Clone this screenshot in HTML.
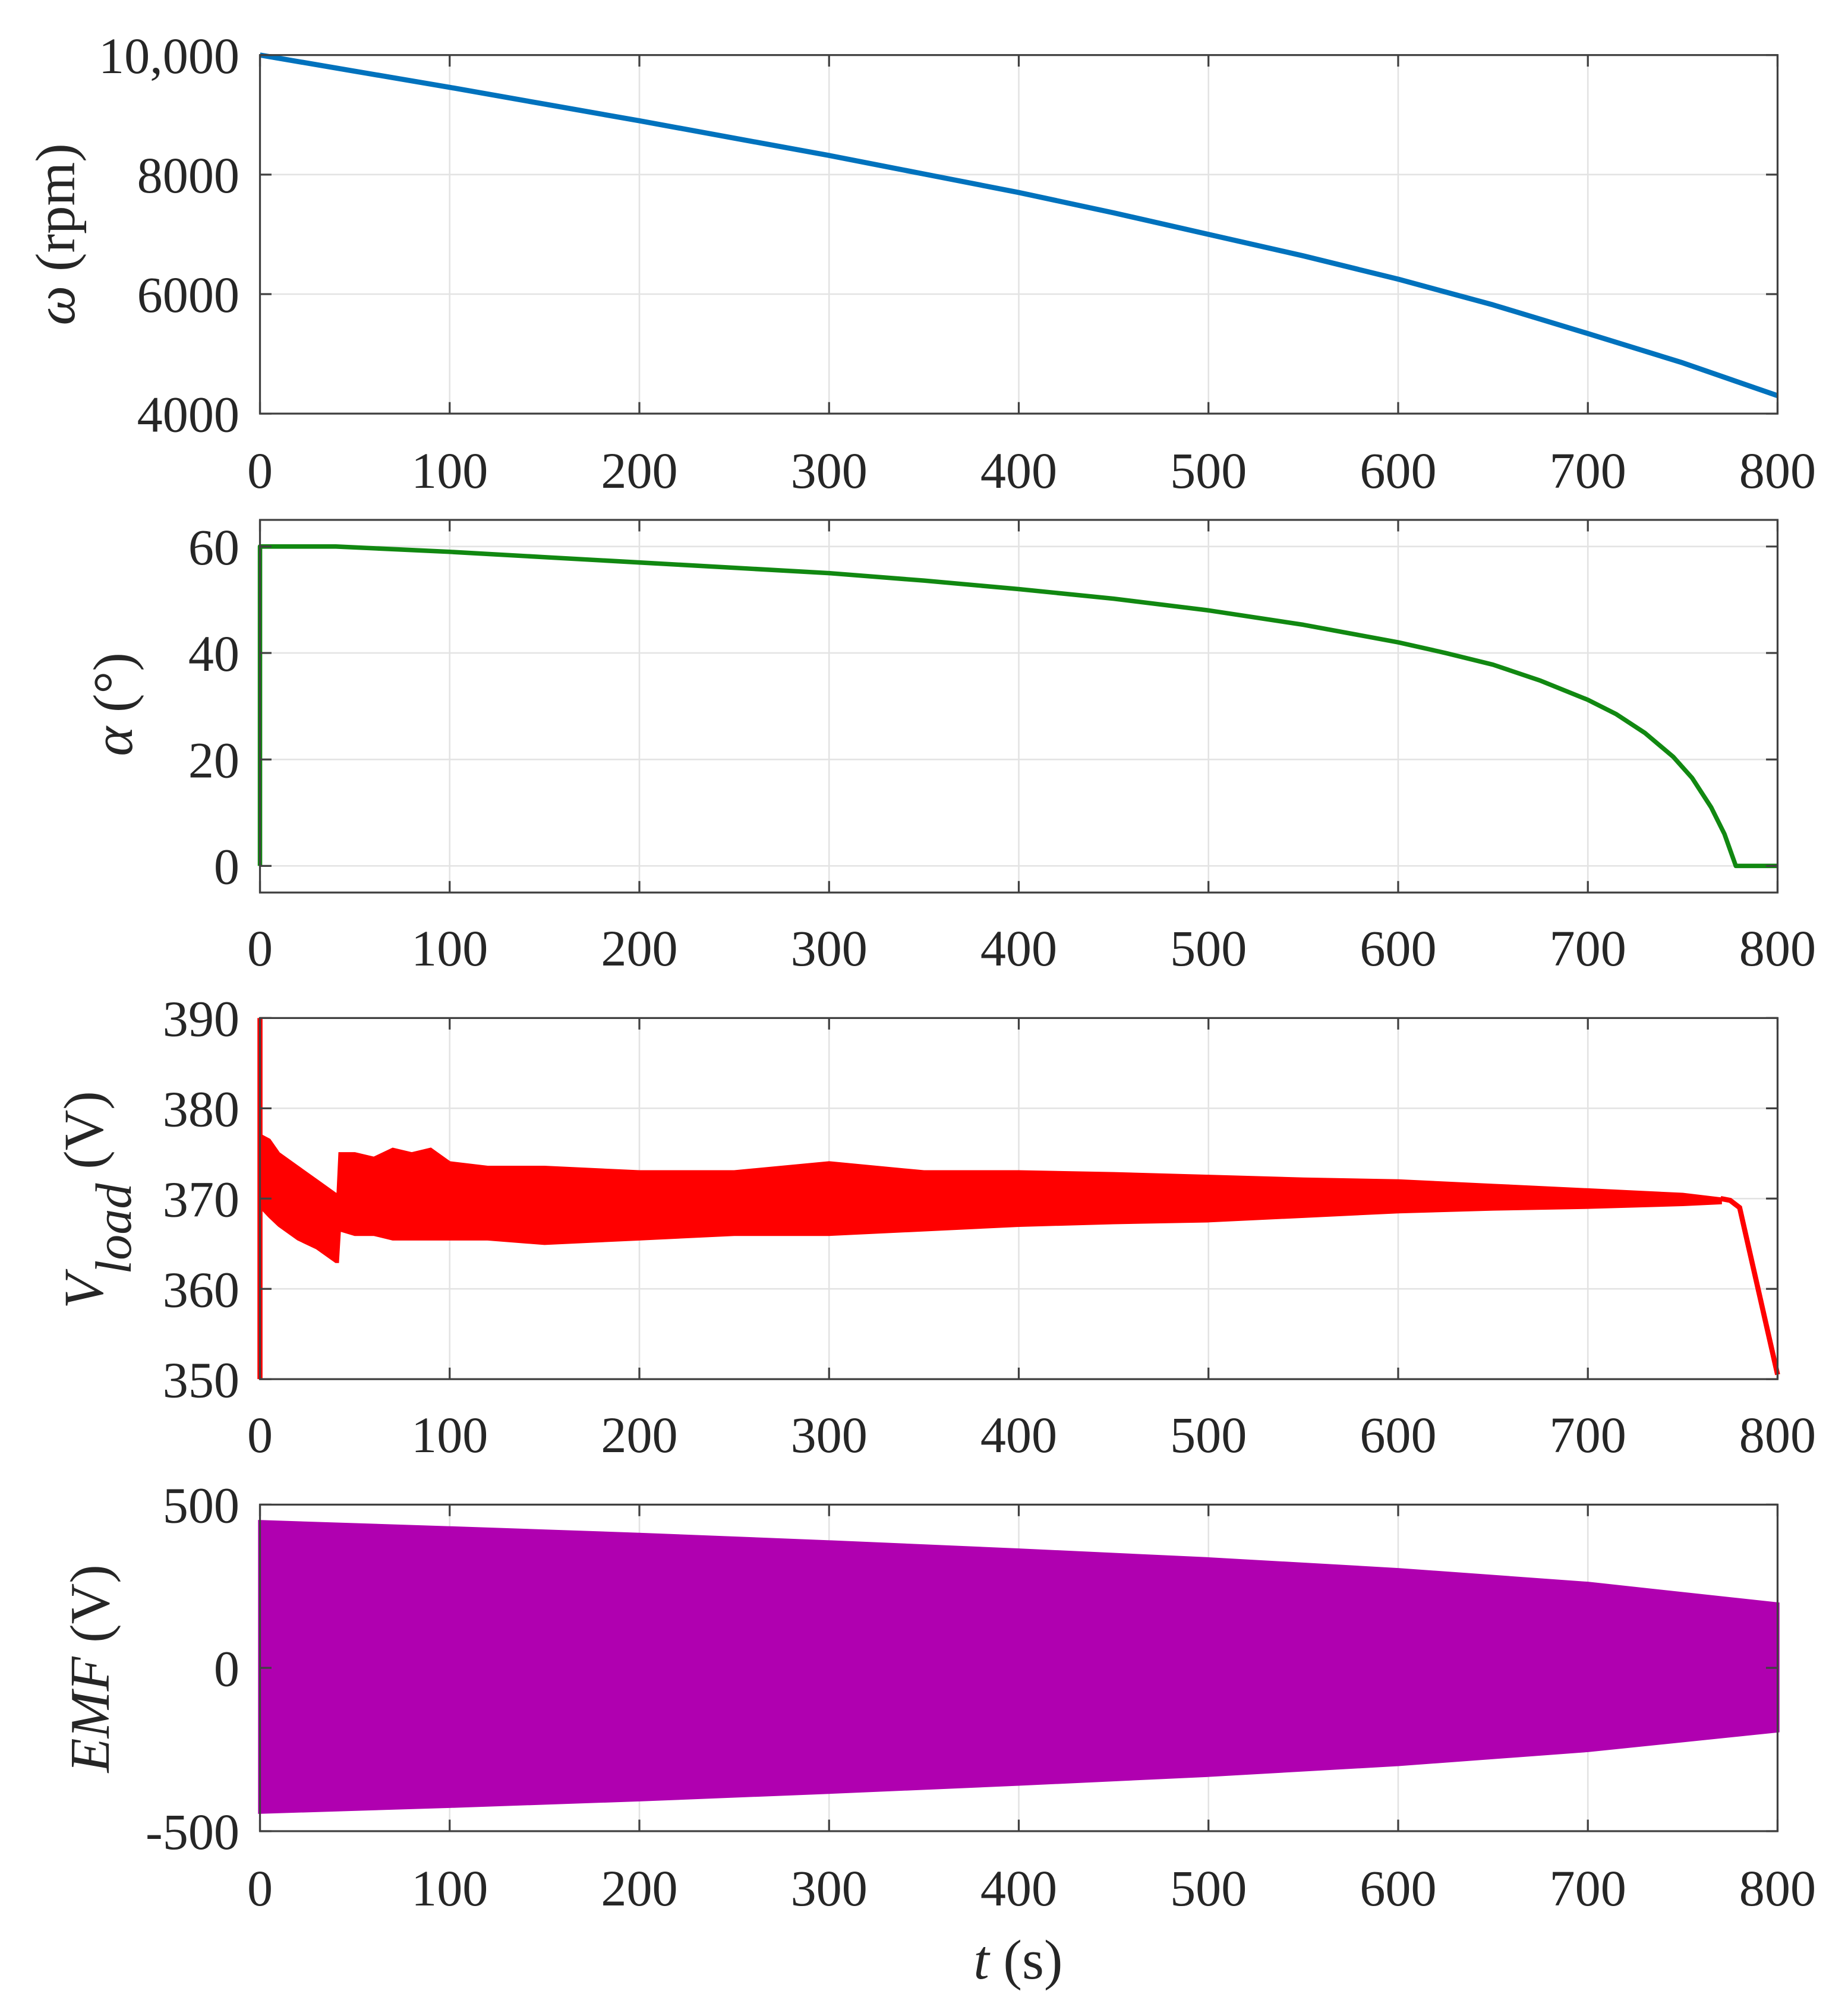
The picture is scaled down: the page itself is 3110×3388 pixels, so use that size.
<!DOCTYPE html>
<html><head><meta charset="utf-8"><style>
html,body{margin:0;padding:0;background:#fff;}
svg{display:block;}
text{font-family:"Liberation Serif",serif;fill:#262626;}
</style></head><body>
<svg id="fig" width="3110" height="3388" viewBox="0 0 1443 1572" xmlns="http://www.w3.org/2000/svg"></svg>
<script>
// ---- data ----
const xTicks = [0,100,200,300,400,500,600,700,800];
const omegaT = [0,50,100,150,200,250,300,350,400,450,500,550,600,650,700,750,800];
const omegaV = [10000,9730,9460,9180,8900,8610,8320,8010,7700,7360,7000,6640,6250,5820,5340,4850,4300];
const alphaT = [0,0.01,40,100,150,200,250,300,350,400,450,500,550,600,625,650,675,700,715,730,745,755,765,772,778,800];
const alphaV = [0,60,60,59,58,57,56,55,53.6,52,50.2,48,45.3,42,40,37.8,34.8,31.2,28.5,25,20.5,16.5,11,6,0,0];
const vT     = [0.5,5,10,20,30,40,41,42,50,60,70,80,90,100,120,150,200,250,300,350,400,450,500,550,600,650,700,750,770];
const vUpper = [377,376.5,375,373.5,372,370.5,370.5,375,375,374.5,375.5,375,375.5,374,373.5,373.5,373,373,374,373,373,372.8,372.5,372.2,372,371.5,371,370.5,370];
const vLower = [369,368,367,365.5,364.5,363,363,366.5,366,366,365.5,365.5,365.5,365.5,365.5,365,365.5,366,366,366.5,367,367.3,367.5,368,368.5,368.8,369,369.3,369.5];
const vTailT = [770,775,780,800];
const vTailV = [370,369.8,369,350.5];
const emfT   = [0,100,200,300,400,500,600,700,800];
const emfUp  = [447,428,408,385,360,333,300,258,195];
const emfLo  = [-441,-423,-403,-380,-355,-328,-295,-252,-192];

const yTicks1=[4000,6000,8000,10000], yLab1=["4000","6000","8000","10,000"];
const yTicks2=[0,20,40,60], yLab2=["0","20","40","60"];
const yTicks3=[350,360,370,380,390], yLab3=["350","360","370","380","390"];
const yTicks4=[-500,0,500], yLab4=["-500","0","500"];

const NS="http://www.w3.org/2000/svg";
const svg=document.getElementById('fig');
function mk(tag,attrs,parent){const e=document.createElementNS(NS,tag);for(const k in attrs)e.setAttribute(k,attrs[k]);(parent||svg).appendChild(e);return e;}
const X0=203,X1=1388;
function sx(t){return X0+(t/800)*(X1-X0);}

function panel(name,top,bot,ymin,ymax,yt,yl){
  const g=mk('g',{});
  
  
  const sy=v=>bot-(v-ymin)/(ymax-ymin)*(bot-top);
  const grid=mk('g',{},g);
  
  
  xTicks.forEach(t=>{ if(t>0&&t<800) mk('line',{x1:sx(t),x2:sx(t),y1:top,y2:bot,stroke:'#e3e3e3','stroke-width':1.2},grid);});
  yt.forEach(v=>{const y=sy(v); if(y>top+1&&y<bot-1) mk('line',{x1:X0,x2:X1,y1:y,y2:y,stroke:'#e3e3e3','stroke-width':1.2},grid);});
  return {g,sy,top,bot,yt,yl,name};
}
function finish(p,labY){
  const {g,sy,top,bot,yt,yl,name}=p;
  mk('rect',{x:X0,y:top,width:X1-X0,height:bot-top,fill:'none',stroke:'#404040','stroke-width':1.5},g);
  xTicks.forEach(t=>{
    mk('line',{x1:sx(t),x2:sx(t),y1:bot,y2:bot-9,stroke:'#404040','stroke-width':1.5},g);
    mk('line',{x1:sx(t),x2:sx(t),y1:top,y2:top+9,stroke:'#404040','stroke-width':1.5},g);
    const tx=mk('text',{x:sx(t),y:labY,'font-size':40,'text-anchor':'middle'},g);
    tx.textContent=t;
    
    
  });
  yt.forEach((v,i)=>{
    const y=sy(v);
    mk('line',{x1:X0,x2:X0+9,y1:y,y2:y,stroke:'#404040','stroke-width':1.5},g);
    mk('line',{x1:X1,x2:X1-9,y1:y,y2:y,stroke:'#404040','stroke-width':1.5},g);
    const tx=mk('text',{x:187,y:y+14,'font-size':40,'text-anchor':'end'},g);
    tx.textContent=yl[i];
    
    
  });
}
function linePath(ts,vs,sy){return ts.map((t,i)=>(i?'L':'M')+sx(t).toFixed(2)+','+sy(vs[i]).toFixed(2)).join(' ');}

// Panel 1
const p1=panel('omega-panel',43,323,4000,10000,yTicks1,yLab1);
const l1=mk('path',{d:linePath(omegaT,omegaV,p1.sy),fill:'none',stroke:'#0072BD','stroke-width':4,'stroke-linejoin':'round'},p1.g);


finish(p1,381);

// Panel 2
const p2=panel('alpha-panel',406,697,-5,65,yTicks2,yLab2);
const l2=mk('path',{d:linePath(alphaT,alphaV,p2.sy),fill:'none',stroke:'#118811','stroke-width':3.5,'stroke-linejoin':'round'},p2.g);


finish(p2,754);

// Panel 3
const p3=panel('vload-panel',795,1077,350,390,yTicks3,yLab3);
{
  const sy=p3.sy;
  let d='M'+sx(0)+','+sy(350)+' L'+sx(0)+','+sy(390)+' ';
  const a=mk('path',{d:d,fill:'none',stroke:'#ff0000','stroke-width':4},p3.g);
  
  
  let pd='';
  vT.forEach((t,i)=>{pd+=(i?'L':'M')+sx(t).toFixed(2)+','+sy(vUpper[i]).toFixed(2)+' ';});
  for(let i=vT.length-1;i>=0;i--){pd+='L'+sx(vT[i]).toFixed(2)+','+sy(vLower[i]).toFixed(2)+' ';}
  pd+='Z';
  const b=mk('path',{d:pd,fill:'#ff0000',stroke:'#ff0000','stroke-width':2,'stroke-linejoin':'miter'},p3.g);
  
  
  const c=mk('path',{d:linePath(vTailT,vTailV,sy),fill:'none',stroke:'#ff0000','stroke-width':4},p3.g);
  
  
}
finish(p3,1134);

// Panel 4
const p4=panel('emf-panel',1175,1430,-500,500,yTicks4,yLab4);
{
  const sy=p4.sy;
  let pd='';
  emfT.forEach((t,i)=>{pd+=(i?'L':'M')+sx(t).toFixed(2)+','+sy(emfUp[i]).toFixed(2)+' ';});
  for(let i=emfT.length-1;i>=0;i--){pd+='L'+sx(emfT[i]).toFixed(2)+','+sy(emfLo[i]).toFixed(2)+' ';}
  pd+='Z';
  const b=mk('path',{d:pd,fill:'#B000B0',stroke:'#B000B0','stroke-width':3},p4.g);
  
  
}
finish(p4,1488);

// axis titles
function ylabel(name,x,y,html){
  const t=mk('text',{x:x,y:y,'font-size':44,'text-anchor':'middle',transform:`rotate(-90 ${x} ${y})`});
  t.innerHTML=html;
  
  
}
ylabel('omega-y-axis-title',58,183,'<tspan font-style="italic">ω</tspan> (rpm)');
ylabel('alpha-y-axis-title',103,550,'<tspan font-style="italic">α</tspan> (°)');
ylabel('vload-y-axis-title',80,937,'<tspan font-style="italic">V</tspan><tspan font-style="italic" font-size="40" dy="22">load</tspan><tspan dy="-22"> (V)</tspan>');
ylabel('emf-y-axis-title',85,1303,'<tspan font-style="italic">EMF</tspan> (V)');
const xt=mk('text',{x:795,y:1545,'font-size':44,'text-anchor':'middle'});
xt.innerHTML='<tspan font-style="italic">t</tspan>  (s)';


</script>
</body></html>
